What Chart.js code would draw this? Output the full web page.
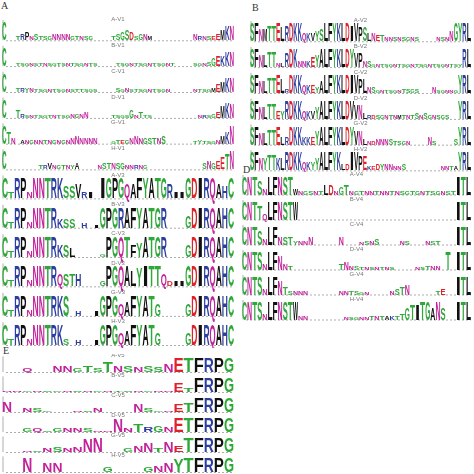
<!DOCTYPE html>
<html><head><meta charset="utf-8">
<script src="https://cdn.jsdelivr.net/npm/chart.js@4"></script>
<style>body{margin:0;background:#fff;width:474px;height:474px;position:relative;overflow:hidden}
canvas{position:absolute}.lab{position:absolute;font:10px "Liberation Serif";color:#333}</style>
</head><body>
<div class="lab" style="left:1px;top:0px">A</div>
<div class="lab" style="left:252px;top:2px">B</div>
<div class="lab" style="left:243px;top:164px">D</div>
<div class="lab" style="left:3px;top:345px">E</div>
<canvas id="cA" style="left:0;top:17px"></canvas>
<canvas id="cB" style="left:248px;top:18px"></canvas>
<canvas id="cC" style="left:0;top:172px"></canvas>
<canvas id="cD" style="left:240px;top:172px"></canvas>
<canvas id="cE" style="left:0;top:354px"></canvas>
<script>
const genotypes = ["A","B","C","D","G","H"];
const lettersV1 = [
"C  TRPNSTSGNNNNGTNSGS   TSGSDSGNMN        NRNSEEMKN",
"C  TSGNSTNSGTSNTSGNTS   STSGNTSGNTSGNT    SGNSGEKKN",
"C  TRYNTSGNTSGNSTTSGS   TSGNSTSGNTSGN     NTSGMEMKN",
"C  TRSNTSGTNTSGNGNNT    TSGSGNTTS         NRSGEMKN",
"CTN ANGNNTNGNGNNNNNNN   GTEGNNNGSTNS      TYTSGNMKN",
"C       TRVNGTNYA   SNSTNSGNNRNG     SNGEETN"];
const heightsV1 = [
"9  23423222333322222   2234542332        322223577",
"9  1111111111111111111   11111111111111    111245577",
"9  2222111111111111111   21211111111111    111124577",
"9  4211111111112223     111141311         11123687",
"963 22222222222343333   122234333334      2121112469",
"9       2232222232   2333332222222     123434689"];
const lettersV2 = [
"SFNMTTELRDKKQKVYSLFYKLDIVPSLNETNNSNSGNSG   NSNNGYRL",
"SFNLTTNLRDKNNKEYALFYKLDYVPNSGNTSGNTSGNTSGNTSGNTSYRL",
"SFNLTTELRDKKQKEYALFYKLDIVPLNSGNTSGNTSGS   NSGNNGYRL",
"SFNLTTEYRDKKQKVYALFYKLDVVNLRDSGNTNMTNTSNSGNSGS YRL",
"SFNLTTELRDKKKKEYALFYKLDYVNLNDNNNSTSGNS   NSN  SYRL",
"SFNYTTKLRDKKQKYYALFYKLDIVPEKEDYNNNNS       NNTAYRL"];
const heightsV2 = [
"996688978999444569999998977443322222222   3222259999",
"996688227993335699999999773311111111111111111111199",
"996688972999444369999999977331111112222   311111999",
"99668844999944469999999977322222222222323222223 999",
"9966889449994447999999997732233332222   342  3999",
"996688669999444699999339977223333223       2222999"];
const lettersV3 = [
"CTRPNNNTRKSSVRI IGPGQAFYATGRIIGDIRQAHC",
"CTRPNNNTRKSS H IGPGRAFYATGR IGDIRQAHC",
"CTRPNNNTRKSLR  IGPGQTFYATGR IGDIRQAHC",
"CTRPNNNTRQSTH  IGPGQALYITTQDIIGDIRQAHC",
"CTRPNNNTRKS H  IGPGQAFYATGR IGDIRQAHC",
"CTRPNNNTRKSIH  IGPGQAFYATGR IGDIRQAHC"];
const heightsV3 = [
"9399399999556333 29999669999963399999659",
"939939999444 2 199999999999 59999999",
"939939999554 7  19999569999 59999999",
"9399399995555  2999978999522299999999",
"93993999999 2  29995699995 59999999",
"93993999993 2  29995699995 59999999"];
const lettersV4 = [
"CNTSNLFNSTWNGSNTLDNGTNGTNNTNNTNSGTGNTSGNSTITL",
"CNTTQLFNSTWN                              ITL",
"CNTSNLFNSTYNNN     NT  NSNSG   NSN  NSTT  ITL",
"CNTSNLFNNTN        TNNSTNSNTNSNG  NSTNNNT ITL",
"CNTSNLFNTSNNN      NNTSGN    NSTN     TE  ITL",
"CNTSNLFNSTWNN      NNSGNNTNTAKTTGTITGANSN ITL"];
const heightsV4 = [
"999739999932222255245222222222222222222222999",
"99973999999                               999",
"99973994442224    14  11223   122  1222   999",
"9999399732        434221111111  1111222 999",
"9999399742222      222211    2345     23  999",
"99993999999222      11111222222368899696 999"];
const lettersV5 = [
"  Q NNGTSTNSNSSNETFRPG",
"NNGNSGNSNGNTSNGNNETFRPG",
"N NSG  NSN  NSGNETFRPG",
"  GQSGNNSNNNNTRGNETFRPG",
"  NSNSNNNN GNNTNETFRPG",
"  N NN    GS  GNNYTFRPG"];
const heightsV5 = [
"  2 2442427443435999999",
"11111111111111111629999",
"7 221  112  5211569999",
"  221222211825343999999",
"  11232389 24627499999",
"  9 66    3   346899999"];

const COL = c => "STGYC".includes(c) ? "#2fa83a" : "KRH".includes(c) ? "#2c3e9e" :
  "DE".includes(c) ? "#e0202a" : "NQ".includes(c) ? "#c2229a" : "#111";

function alignRow(s, hs, n) {
  const chars = Array(n).fill(" "), hts = Array(n).fill(0);
  const cut = s.lastIndexOf(" ") + 1, tail = s.length - cut;
  for (let i = 0; i < cut; i++) { chars[i] = s[i]; hts[i] = parseInt(hs[i]) || 0; }
  for (let k = 0; k < tail; k++) {
    chars[n - tail + k] = s[cut + k];
    hts[n - tail + k] = parseInt(hs[hs.length - tail + k]) || 0;
  }
  return {chars, hts};
}

function makeChart(id, w, h, letters, heights, tag) {
  const cv = document.getElementById(id); cv.width = w; cv.height = h;
  const n = Math.max(...letters.map(s => s.length));
  const labels = Array.from({length: n}, (_, i) => String(i + 1));
  const datasets = letters.map((s, r) => {
    const a = alignRow(s, heights[r], n);
    return {
      data: labels.map((_, i) => {
        const base = r + 0.9, hv = a.hts[i];
        return (a.chars[i] === " " || hv === 0) ? null : [base - hv / 9 * 0.72, base];
      }),
      chars: a.chars, backgroundColor: "rgba(0,0,0,0)", grouped: false,
      barPercentage: 1, categoryPercentage: 1
    };
  });
  const plug = {
    id: "logo" + id,
    afterDatasetsDraw(ch) {
      const ctx = ch.ctx, ys = ch.scales.y, xa = ch.chartArea;
      ch.data.datasets.forEach((ds, r) => {
        const base = ys.getPixelForValue(r + 0.9);
        ctx.save(); ctx.strokeStyle = "#777"; ctx.setLineDash([2, 2]); ctx.lineWidth = 0.6;
        ctx.beginPath(); ctx.moveTo(xa.left + 4, base + 0.5); ctx.lineTo(xa.right, base + 0.5); ctx.stroke();
        ctx.setLineDash([]); ctx.beginPath(); ctx.moveTo(xa.left + 1, ys.getPixelForValue(r + 0.12));
        ctx.lineTo(xa.left + 1, base); ctx.stroke();
        ctx.fillStyle = "#777"; ctx.font = "6px 'Liberation Sans'"; ctx.textAlign = "center";
        ctx.fillText(genotypes[r] + "-" + tag, xa.left + (xa.right - xa.left) * 0.5, ys.getPixelForValue(r + 0.16));
        ctx.restore();
        ch.getDatasetMeta(r).data.forEach((bar, i) => {
          const c = ds.chars[i]; if (!c || c === " " || ds.data[i] == null) return;
          const p = bar.getProps(["x", "y", "base", "width"], true);
          const top = Math.min(p.y, p.base), bot = Math.max(p.y, p.base);
          const bh = bot - top; if (bh < 0.5) return;
          ctx.save(); ctx.font = "bold 100px 'Liberation Sans'";
          const tw = ctx.measureText(c).width;
          ctx.translate(p.x - p.width / 2, bot);
          ctx.scale(p.width / tw, bh / 72);
          ctx.fillStyle = COL(c); ctx.textBaseline = "alphabetic"; ctx.fillText(c, 0, 0);
          ctx.restore();
        });
      });
    }
  };
  new Chart(cv, {
    type: "bar", data: {labels, datasets}, plugins: [plug],
    options: {
      responsive: false, animation: false, devicePixelRatio: 1,
      layout: {padding: {left: 2, right: 3, top: 0, bottom: 0}},
      plugins: {legend: {display: false}, tooltip: {enabled: false}},
      scales: {x: {display: false}, y: {display: false, min: 0, max: 6, reverse: true}}
    }
  });
}
makeChart("cA", 237, 155, lettersV1, heightsV1, "V1");
makeChart("cB", 226, 155, lettersV2, heightsV2, "V2");
makeChart("cC", 237, 176, lettersV3, heightsV3, "V3");
makeChart("cD", 234, 150, lettersV4, heightsV4, "V4");
makeChart("cE", 237, 120, lettersV5, heightsV5, "V5");
</script></body></html>
